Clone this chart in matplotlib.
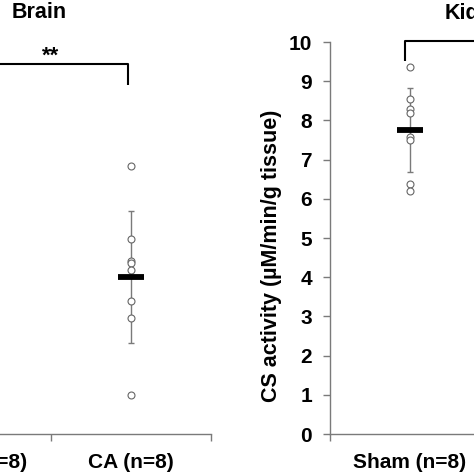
import numpy as np
import matplotlib
matplotlib.use('Agg')
import matplotlib.pyplot as plt

plt.rcParams['font.family'] = ['Liberation Sans', 'DejaVu Sans']
plt.rcParams['font.weight'] = 'bold'

# --- Datos ---
groups = ['Sham (n=8)', 'CA (n=8)']
brain_ca = [6.84, 4.97, 4.42, 4.35, 4.18, 3.40, 2.95, 1.00]
kidney_sham = [9.35, 8.54, 8.28, 8.18, 7.57, 7.50, 6.38, 6.21]
y_ticks = list(range(0, 11))
ylabel = 'CS activity (µM/min/g tissue)'

GRAY = '#7a7a7a'
W = H = 474


def px(x0, y0, w, h):
    # caja en píxeles (origen arriba-izquierda) -> fracciones de figura
    return [x0 / W, 1 - (y0 + h) / H, w / W, h / H]


def style_axis(ax, show_ylabels=True):
    ax.set_xlim(-0.5, 1.5)
    ax.set_ylim(0, 10)
    for s in ('top', 'right'):
        ax.spines[s].set_visible(False)
    for s in ('left', 'bottom'):
        ax.spines[s].set_color(GRAY)
        ax.spines[s].set_linewidth(1.0)
    ax.set_yticks(y_ticks)
    if show_ylabels:
        ax.set_yticklabels([str(t) for t in y_ticks], fontsize=15, fontweight='bold')
    else:
        ax.set_yticklabels([])
    ax.tick_params(axis='y', direction='out', length=5, width=1, color=GRAY, pad=8)
    ax.set_xticks([0, 1])
    ax.set_xticklabels(groups, fontsize=15, fontweight='bold')
    ax.tick_params(axis='x', which='major', length=0, pad=14)
    ax.set_xticks([-0.5, 0.5, 1.5], minor=True)
    ax.tick_params(axis='x', which='minor', direction='out', length=5, width=1, color=GRAY)


def draw_group(ax, xpos, values):
    vals = np.array(values)
    m = vals.mean()
    sd = vals.std(ddof=1)
    ax.errorbar([xpos], [m], yerr=[sd], fmt='none', ecolor=GRAY, elinewidth=1,
                capsize=2.5, capthick=1, zorder=2)
    ax.plot([xpos] * len(vals), vals, 'o', markersize=5, markerfacecolor='white',
            markeredgecolor='#666666', markeredgewidth=0.8, zorder=3)
    ax.plot([xpos - 0.08, xpos + 0.08], [m, m], color='black', lw=4.2,
            solid_capstyle='butt', zorder=4)


def bracket(ax, x1, x2, y, drop):
    ax.plot([x1, x1, x2, x2], [y - drop, y, y, y - drop], color='black', lw=1.5,
            clip_on=False, solid_capstyle='butt')
    ax.text((x1 + x2) / 2, y + 0.22, '**', ha='center', va='center', fontsize=16,
            fontweight='bold', clip_on=False)


fig = plt.figure(figsize=(4.74, 4.74), dpi=100)

ax1 = fig.add_axes(px(-109, 42, 320, 392))
style_axis(ax1, show_ylabels=False)
draw_group(ax1, 1, brain_ca)
bracket(ax1, 0.02, 0.98, 9.43, 0.53)

ax2 = fig.add_axes(px(330, 42, 320, 392))
style_axis(ax2)
draw_group(ax2, 0, kidney_sham)
bracket(ax2, -0.03, 0.97, 10.03, 0.52)

fig.text(39 / W, 1 - 13 / H, 'Brain', ha='center', va='center', fontsize=15.5, fontweight='bold')
fig.text(445 / W, 1 - 13 / H, 'Kidney', ha='left', va='center', fontsize=15.5, fontweight='bold')
fig.text(272 / W, 1 - 256 / H, ylabel, rotation=90, ha='center', va='center',
         fontsize=15.5, fontweight='bold')

fig.savefig('out.png', dpi=100)
